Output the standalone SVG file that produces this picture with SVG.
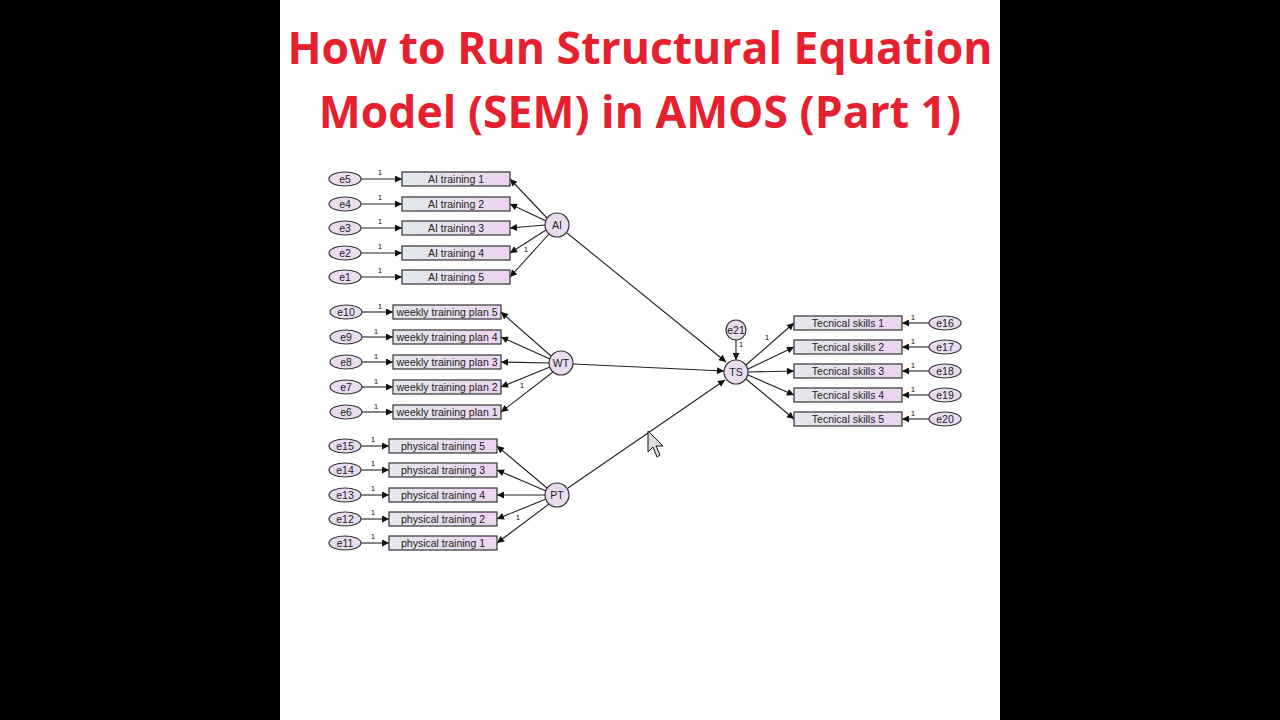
<svg xmlns="http://www.w3.org/2000/svg" width="1280" height="720" viewBox="0 0 1280 720">
<defs>
<linearGradient id="g" x1="0" x2="1" y1="0" y2="0"><stop offset="0" stop-color="#e4e8ee"/><stop offset="1" stop-color="#ecd4f0"/></linearGradient>
<marker id="a" viewBox="0 0 10 10" refX="10" refY="5" markerWidth="10" markerHeight="7" markerUnits="userSpaceOnUse" orient="auto"><path d="M0,0 L10,5 L0,10 z" fill="#111"/></marker>
</defs>
<style>
.b{fill:url(#g);stroke:#333;stroke-width:1.2}
.e{fill:#eadcf0;stroke:#333;stroke-width:1.2}
.t{font-family:"Liberation Sans",Arial,sans-serif;font-size:10.5px;fill:#222;text-anchor:middle}
.o{font-family:"Liberation Sans",Arial,sans-serif;font-size:8px;fill:#111;text-anchor:middle}
.l{stroke:#222;stroke-width:1.1;fill:none;marker-end:url(#a)}
.h{font-family:"Open Sans",sans-serif;font-weight:bold;font-size:44.5px;fill:#e5202f;text-anchor:middle}
</style>
<rect width="1280" height="720" fill="#000"/>
<rect x="280" y="0" width="720" height="720" fill="#fff"/>
<text class="h" x="640" y="64">How to Run Structural Equation</text>
<text class="h" x="640" y="128">Model (SEM) in AMOS (Part 1)</text>
<g id="connectors">
<path class="l" d="M361,179H402"/><path class="l" d="M361,204H402"/><path class="l" d="M361,228H402"/><path class="l" d="M361,253H402"/><path class="l" d="M361,277H402"/>
<path class="l" d="M547,218L510,179"/><path class="l" d="M546,221L510,204"/><path class="l" d="M545,225L510,228"/><path class="l" d="M546,230L510,253"/><path class="l" d="M549,234L510,277"/>
<path class="l" d="M362,312H393"/><path class="l" d="M362,337H393"/><path class="l" d="M362,362H393"/><path class="l" d="M362,387H393"/><path class="l" d="M362,412H393"/>
<path class="l" d="M551,356L501,312"/><path class="l" d="M550,359L501,337"/><path class="l" d="M549,363L501,362"/><path class="l" d="M550,367L501,387"/><path class="l" d="M553,372L501,412"/>
<path class="l" d="M361,446H389"/><path class="l" d="M361,470H389"/><path class="l" d="M361,495H389"/><path class="l" d="M361,519H389"/><path class="l" d="M361,543H389"/>
<path class="l" d="M547,488L497,446"/><path class="l" d="M546,491L497,470"/><path class="l" d="M545,495L497,495"/><path class="l" d="M546,499L497,519"/><path class="l" d="M549,504L497,543"/>
<path class="l" d="M567,233L726,362"/>
<path class="l" d="M573,364L724,371"/>
<path class="l" d="M568,488L725,380"/>
<path class="l" d="M736,340V360"/>
<path class="l" d="M746,365L794,323"/><path class="l" d="M748,369L794,347"/><path class="l" d="M748,372L794,371"/><path class="l" d="M748,375L794,395"/><path class="l" d="M746,379L794,419"/>
<path class="l" d="M929,323H902"/><path class="l" d="M929,347H902"/><path class="l" d="M929,371H902"/><path class="l" d="M929,395H902"/><path class="l" d="M929,419H902"/>
<text class="o" x="380" y="175">1</text><text class="o" x="380" y="200">1</text><text class="o" x="380" y="224">1</text><text class="o" x="380" y="249">1</text><text class="o" x="380" y="273">1</text>
<text class="o" x="526" y="252">1</text>
<text class="o" x="380" y="309">1</text><text class="o" x="376" y="334">1</text><text class="o" x="376" y="359">1</text><text class="o" x="376" y="384">1</text><text class="o" x="376" y="409">1</text>
<text class="o" x="522" y="388">1</text>
<text class="o" x="373" y="442">1</text><text class="o" x="373" y="466">1</text><text class="o" x="373" y="491">1</text><text class="o" x="373" y="515">1</text><text class="o" x="373" y="539">1</text>
<text class="o" x="518" y="520">1</text>
<text class="o" x="741" y="347">1</text>
<text class="o" x="767" y="340">1</text>
<text class="o" x="913" y="320">1</text><text class="o" x="913" y="344">1</text><text class="o" x="913" y="368">1</text><text class="o" x="913" y="392">1</text><text class="o" x="913" y="416">1</text>
</g>
<g id="AI"><circle class="e" cx="557" cy="225" r="12"/><text class="t" x="557" y="229">AI</text></g>
<g id="WT"><circle class="e" cx="561" cy="363" r="12"/><text class="t" x="561" y="367">WT</text></g>
<g id="PT"><circle class="e" cx="557" cy="495" r="12"/><text class="t" x="557" y="499">PT</text></g>
<g id="TS"><circle class="e" cx="736" cy="372" r="12"/><text class="t" x="736" y="376">TS</text></g>
<g id="e21"><circle class="e" cx="736" cy="330" r="10"/><text class="t" x="736" y="334">e21</text></g>
<g id="ai-items">
<rect class="b" x="402" y="172" width="108" height="14"/><text class="t" x="456" y="183">AI training 1</text>
<rect class="b" x="402" y="197" width="108" height="14"/><text class="t" x="456" y="208">AI training 2</text>
<rect class="b" x="402" y="221" width="108" height="14"/><text class="t" x="456" y="232">AI training 3</text>
<rect class="b" x="402" y="246" width="108" height="14"/><text class="t" x="456" y="257">AI training 4</text>
<rect class="b" x="402" y="270" width="108" height="14"/><text class="t" x="456" y="281">AI training 5</text>
<ellipse class="e" cx="345" cy="179" rx="16" ry="7"/><text class="t" x="345" y="183">e5</text>
<ellipse class="e" cx="345" cy="204" rx="16" ry="7"/><text class="t" x="345" y="208">e4</text>
<ellipse class="e" cx="345" cy="228" rx="16" ry="7"/><text class="t" x="345" y="232">e3</text>
<ellipse class="e" cx="345" cy="253" rx="16" ry="7"/><text class="t" x="345" y="257">e2</text>
<ellipse class="e" cx="345" cy="277" rx="16" ry="7"/><text class="t" x="345" y="281">e1</text>
</g>
<g id="wt-items">
<rect class="b" x="393" y="305" width="108" height="14"/><text class="t" x="447" y="316">weekly training  plan 5</text>
<rect class="b" x="393" y="330" width="108" height="14"/><text class="t" x="447" y="341">weekly training plan 4</text>
<rect class="b" x="393" y="355" width="108" height="14"/><text class="t" x="447" y="366">weekly training plan 3</text>
<rect class="b" x="393" y="380" width="108" height="14"/><text class="t" x="447" y="391">weekly training plan 2</text>
<rect class="b" x="393" y="405" width="108" height="14"/><text class="t" x="447" y="416">weekly training plan 1</text>
<ellipse class="e" cx="346" cy="312" rx="16" ry="7"/><text class="t" x="346" y="316">e10</text>
<ellipse class="e" cx="346" cy="337" rx="16" ry="7"/><text class="t" x="346" y="341">e9</text>
<ellipse class="e" cx="346" cy="362" rx="16" ry="7"/><text class="t" x="346" y="366">e8</text>
<ellipse class="e" cx="346" cy="387" rx="16" ry="7"/><text class="t" x="346" y="391">e7</text>
<ellipse class="e" cx="346" cy="412" rx="16" ry="7"/><text class="t" x="346" y="416">e6</text>
</g>
<g id="pt-items">
<rect class="b" x="389" y="439" width="108" height="14"/><text class="t" x="443" y="450">physical training 5</text>
<rect class="b" x="389" y="463" width="108" height="14"/><text class="t" x="443" y="474">physical training 3</text>
<rect class="b" x="389" y="488" width="108" height="14"/><text class="t" x="443" y="499">physical training 4</text>
<rect class="b" x="389" y="512" width="108" height="14"/><text class="t" x="443" y="523">physical training 2</text>
<rect class="b" x="389" y="536" width="108" height="14"/><text class="t" x="443" y="547">physical training 1</text>
<ellipse class="e" cx="345" cy="446" rx="16" ry="7"/><text class="t" x="345" y="450">e15</text>
<ellipse class="e" cx="345" cy="470" rx="16" ry="7"/><text class="t" x="345" y="474">e14</text>
<ellipse class="e" cx="345" cy="495" rx="16" ry="7"/><text class="t" x="345" y="499">e13</text>
<ellipse class="e" cx="345" cy="519" rx="16" ry="7"/><text class="t" x="345" y="523">e12</text>
<ellipse class="e" cx="345" cy="543" rx="16" ry="7"/><text class="t" x="345" y="547">e11</text>
</g>
<g id="ts-items">
<rect class="b" x="794" y="316" width="108" height="14"/><text class="t" x="848" y="327">Tecnical skills 1</text>
<rect class="b" x="794" y="340" width="108" height="14"/><text class="t" x="848" y="351">Tecnical skills 2</text>
<rect class="b" x="794" y="364" width="108" height="14"/><text class="t" x="848" y="375">Tecnical skills 3</text>
<rect class="b" x="794" y="388" width="108" height="14"/><text class="t" x="848" y="399">Tecnical skills 4</text>
<rect class="b" x="794" y="412" width="108" height="14"/><text class="t" x="848" y="423">Tecnical skills 5</text>
<ellipse class="e" cx="945" cy="323" rx="16" ry="7"/><text class="t" x="945" y="327">e16</text>
<ellipse class="e" cx="945" cy="347" rx="16" ry="7"/><text class="t" x="945" y="351">e17</text>
<ellipse class="e" cx="945" cy="371" rx="16" ry="7"/><text class="t" x="945" y="375">e18</text>
<ellipse class="e" cx="945" cy="395" rx="16" ry="7"/><text class="t" x="945" y="399">e19</text>
<ellipse class="e" cx="945" cy="419" rx="16" ry="7"/><text class="t" x="945" y="423">e20</text>
</g>
<path d="M648,431 L648,452 L653,447 L657,457 L660,455 L656,446 L663,446 Z" fill="#ddd" stroke="#111" stroke-width="1"/>
</svg>
